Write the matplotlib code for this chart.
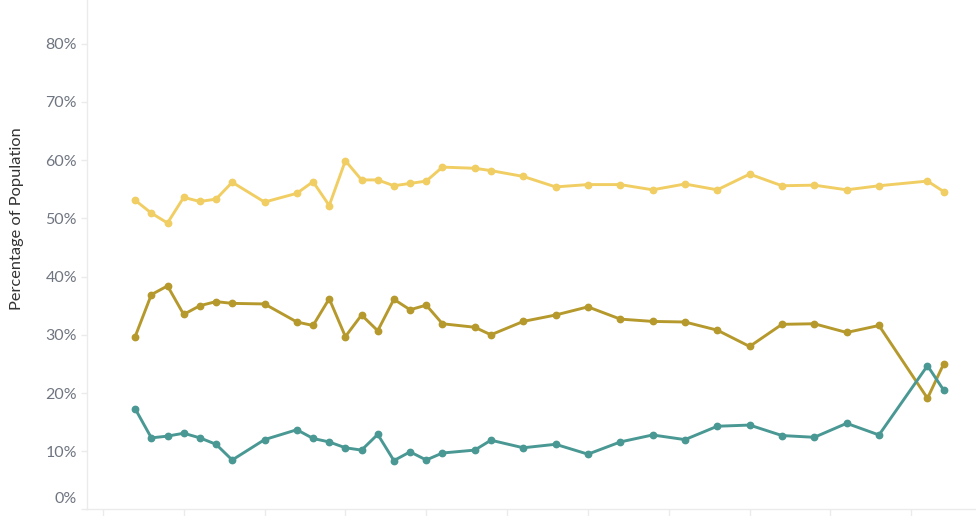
import matplotlib
matplotlib.use('Agg')
import matplotlib.pyplot as plt
import matplotlib.transforms as mtransforms
from matplotlib.ticker import FuncFormatter

plt.rcParams['font.family'] = ['Lato', 'DejaVu Sans']

years = [1972, 1973, 1974, 1975, 1976, 1977, 1978, 1980, 1982, 1983, 1984,
         1985, 1986, 1987, 1988, 1989, 1990, 1991, 1993, 1994, 1996, 1998,
         2000, 2002, 2004, 2006, 2008, 2010, 2012, 2014, 2016, 2018, 2021, 2022]

# percent of population
top_series = [53.1, 50.9, 49.2, 53.6, 52.9, 53.3, 56.2, 52.8, 54.3, 56.3, 52.2,
              59.9, 56.6, 56.6, 55.6, 56.0, 56.4, 58.8, 58.6, 58.2, 57.2, 55.4,
              55.8, 55.8, 54.9, 55.9, 54.9, 57.6, 55.6, 55.7, 54.9, 55.6, 56.4, 54.6]
mid_series = [29.7, 36.9, 38.4, 33.5, 35.0, 35.7, 35.4, 35.3, 32.2, 31.6, 36.2,
              29.7, 33.4, 30.7, 36.1, 34.3, 35.1, 31.9, 31.3, 30.0, 32.3, 33.4,
              34.8, 32.7, 32.3, 32.2, 30.8, 28.0, 31.8, 31.9, 30.4, 31.6, 19.1, 25.0]
low_series = [17.3, 12.3, 12.6, 13.1, 12.3, 11.2, 8.5, 12.0, 13.7, 12.2, 11.6,
              10.6, 10.2, 12.9, 8.4, 9.9, 8.5, 9.7, 10.2, 11.9, 10.6, 11.2,
              9.5, 11.6, 12.8, 12.0, 14.3, 14.5, 12.7, 12.4, 14.8, 12.8, 24.7, 20.5]

y_ticks = [0, 10, 20, 30, 40, 50, 60, 70, 80]
x_ticks = [1970, 1975, 1980, 1985, 1990, 1995, 2000, 2005, 2010, 2015, 2020]

fig = plt.figure(figsize=(9.76, 5.16), dpi=100)
ax = fig.add_axes([0.0888, 0.0126, 0.9112, 0.9874])

for vals, col in [(top_series, '#F1CE63'), (mid_series, '#B6992D'), (low_series, '#499894')]:
    ax.plot(years, vals, color=col, lw=2.1, marker='o', markersize=4.6,
            solid_joinstyle='round', solid_capstyle='round', clip_on=False)

ax.set_xlim(1969.0, 2024.0)
ax.set_ylim(0, 87.5)
ax.set_yticks(y_ticks)
ax.yaxis.set_major_formatter(FuncFormatter(lambda v, p: '%d%%' % v))
ax.set_xticks(x_ticks)
ax.set_xticklabels([])

for side in ['top', 'right']:
    ax.spines[side].set_visible(False)
for side in ['left', 'bottom']:
    ax.spines[side].set_color('#ebebeb')
    ax.spines[side].set_linewidth(1.0)

ax.tick_params(axis='y', length=4, width=1, color='#ebebeb', labelsize=11.5,
               labelcolor='#6f7580', pad=3)
ax.tick_params(axis='x', length=7, width=1, color='#ebebeb')

# Tableau nudges the 0% label up so it stays inside the pane
zero_lab = ax.get_yticklabels()[0]
zero_lab.set_transform(zero_lab.get_transform() +
                       mtransforms.ScaledTranslation(0, 0.115, fig.dpi_scale_trans))

fig.text(17 / 976, 1 - 219 / 516, 'Percentage of Population', rotation=90,
         ha='center', va='center', fontsize=11.8, color='#333333')

fig.savefig('out.png', dpi=100)
